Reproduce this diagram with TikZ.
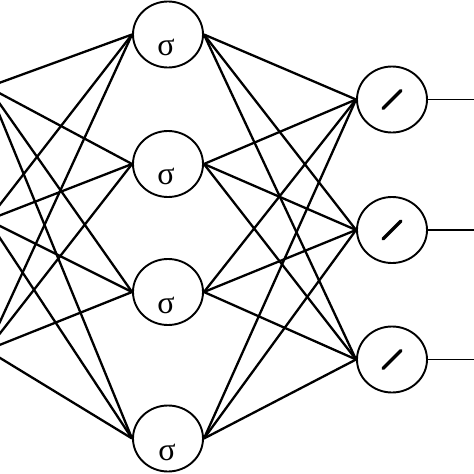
\documentclass[tikz,border=0pt]{standalone}
\usepackage{fontspec}
\setmainfont{Liberation Serif}
\usetikzlibrary{shapes.geometric}
\begin{document}
\begin{tikzpicture}[x=1pt,y=-1pt,
  neuron/.style={draw, ellipse, line width=1.9pt, minimum width=70pt, minimum height=66pt, inner sep=0pt},
  conn/.style={line width=2.3pt},
  outl/.style={line width=1.8pt},
  sig/.style={font=\fontsize{32}{32}\selectfont, inner sep=0pt},
  slashline/.style={line width=3.2pt, line cap=round}]
\useasboundingbox (0,0) rectangle (474,474);
\clip (0,0) rectangle (474,474);
% input points (off picture)
\coordinate (in1) at (-12,87);
\coordinate (in2) at (-12,220);
\coordinate (in3) at (-13,350);
% hidden layer
\node[neuron] (h1) at (168,34.5) {};
\node[neuron] (h2) at (168,164) {};
\node[neuron] (h3) at (168,292) {};
\node[neuron] (h4) at (168,438.5) {};
% output layer
\node[neuron] (o1) at (392,99.5) {};
\node[neuron] (o2) at (392,230) {};
\node[neuron] (o3) at (392,359.5) {};
% sigma labels
\node[sig] (s1) at (166,47) {σ};
\node[sig] (s2) at (166,176) {σ};
\node[sig] (s3) at (166,305) {σ};
\node[sig] (s4) at (167,452) {σ};
% connections input -> hidden
\foreach \i in {1,2,3}{
  \foreach \j in {1,2,3,4}{
    \draw[conn] (in\i) -- (h\j.west);
  }
}
% hidden -> output
\foreach \j in {1,2,3,4}{
  \foreach \k in {1,2,3}{
    \draw[conn] (h\j.east) -- (o\k.west);
  }
}
% output lines
\coordinate (r1) at (480,99.5);
\coordinate (r2) at (480,230);
\coordinate (r3) at (480,359.5);
\foreach \k in {1,2,3}{
  \draw[outl] (o\k.east) -- (r\k);
  \draw[slashline] ([shift={(-9,9)}]o\k.center) -- ([shift={(9,-9)}]o\k.center);
}
\end{tikzpicture}
\end{document}
